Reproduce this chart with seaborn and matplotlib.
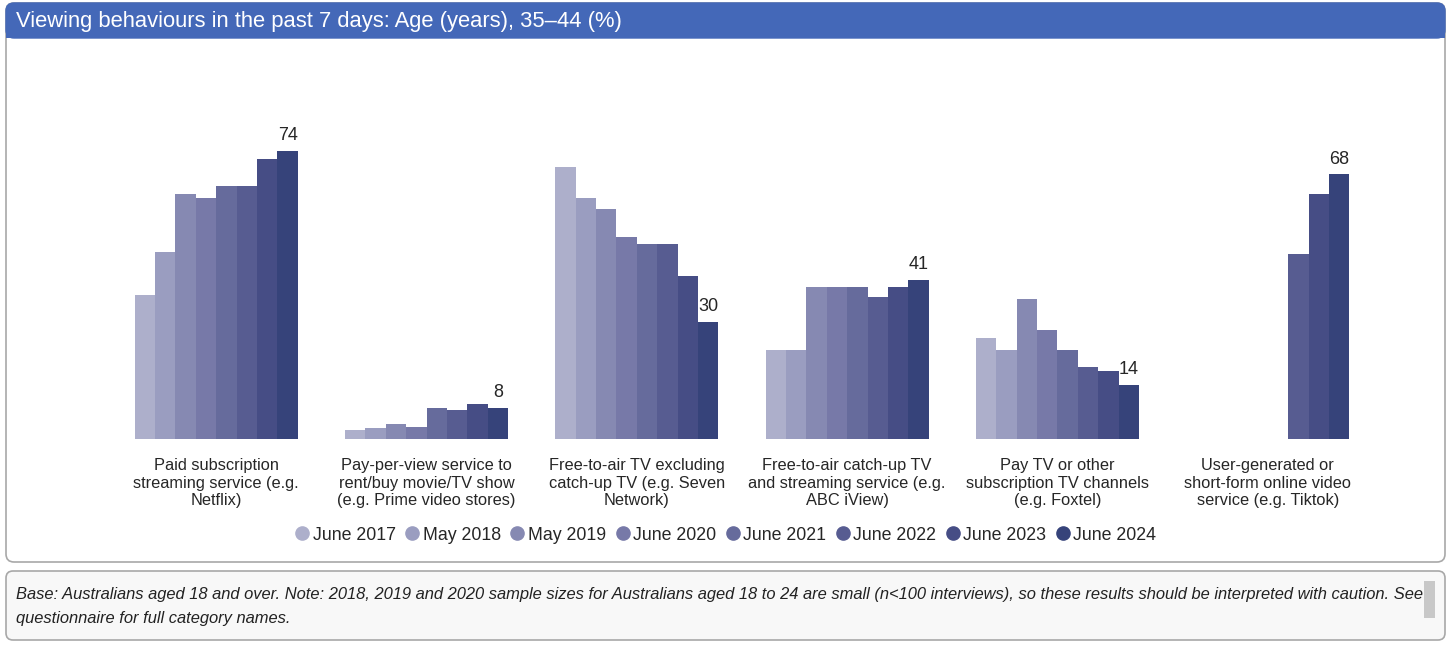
import numpy as np
import pandas as pd
import matplotlib
matplotlib.use("Agg")
import matplotlib.pyplot as plt
import seaborn as sns
from matplotlib.patches import FancyBboxPatch, Rectangle
from matplotlib.lines import Line2D

# ── Data ──
categories = [
    "Paid subscription\nstreaming service (e.g.\nNetflix)",
    "Pay-per-view service to\nrent/buy movie/TV show\n(e.g. Prime video stores)",
    "Free-to-air TV excluding\ncatch-up TV (e.g. Seven\nNetwork)",
    "Free-to-air catch-up TV\nand streaming service (e.g.\nABC iView)",
    "Pay TV or other\nsubscription TV channels\n(e.g. Foxtel)",
    "User-generated or\nshort-form online video\nservice (e.g. Tiktok)",
]
periods = ["June 2017", "May 2018", "May 2019", "June 2020",
           "June 2021", "June 2022", "June 2023", "June 2024"]

june_2017 = [37, 2.3, 70, 23, 26, np.nan]
may_2018 = [48, 2.8, 62, 23, 23, np.nan]
may_2019 = [63, 3.9, 59, 39, 36, np.nan]
june_2020 = [62, 3.0, 52, 39, 28, np.nan]
june_2021 = [65, 8.0, 50, 39, 23, np.nan]
june_2022 = [65, 7.5, 50, 36.5, 18.5, 47.5]
june_2023 = [72, 9.0, 42, 39, 17.5, 63]
june_2024 = [74, 8, 30, 41, 14, 68]

colors = ["#adafcb", "#9a9dc0", "#8689b2", "#7779a8",
          "#666b9c", "#575c91", "#464d85", "#36437a"]

series = [june_2017, may_2018, may_2019, june_2020,
          june_2021, june_2022, june_2023, june_2024]
rows = []
for period, vals in zip(periods, series):
    for cat, v in zip(categories, vals):
        if not np.isnan(v):
            rows.append({"category": cat, "period": period, "value": v})
df = pd.DataFrame(rows)

sns.set_theme(style="white")
plt.rcParams["font.family"] = ["Liberation Sans", "DejaVu Sans"]

W, H = 1456, 645
fig = plt.figure(figsize=(W / 100, H / 100), dpi=100)

# ── Panel frames ──
bg = fig.add_axes([0, 0, 1, 1])
bg.set_xlim(0, W)
bg.set_ylim(H, 0)
bg.axis("off")
bg.add_patch(FancyBboxPatch((6, 3), 1439, 559, boxstyle="round,pad=0,rounding_size=8",
                            facecolor="white", edgecolor="#a8a8a8", lw=1.2))
bg.add_patch(FancyBboxPatch((6, 3), 1439, 35, boxstyle="round,pad=0,rounding_size=8",
                            facecolor="#4468b8", edgecolor="#4468b8", lw=1))
bg.add_patch(Rectangle((6, 25), 1439, 13, facecolor="#4468b8", edgecolor="none"))
bg.text(16, 21, "Viewing behaviours in the past 7 days: Age (years), 35\u201344 (%)",
        color="white", fontsize=15.8, va="center", ha="left")

bg.add_patch(FancyBboxPatch((6, 571), 1439, 69, boxstyle="round,pad=0,rounding_size=7",
                            facecolor="#f8f8f8", edgecolor="#a8a8a8", lw=1.2))
bg.add_patch(Rectangle((1424, 581), 11, 37, facecolor="#c8c8c8", edgecolor="none"))
bg.text(16, 594, "Base: Australians aged 18 and over. Note: 2018, 2019 and 2020 sample sizes "
        "for Australians aged 18 to 24 are small (n<100 interviews), so these results "
        "should be interpreted with caution. See", fontsize=11.85, style="italic",
        va="center", ha="left", color="#222222")
bg.text(16, 619, "questionnaire for full category names.", fontsize=11.85, style="italic",
        va="center", ha="left", color="#222222")

# ── Bars ──
ax = fig.add_axes([111 / W, 1 - 439 / H, (1373 - 111) / W, (439 - 120) / H])
sns.barplot(data=df, x="category", y="value", hue="period", order=categories,
            hue_order=periods, palette=colors, width=0.776, linewidth=0,
            saturation=1, ax=ax, legend=False)
ax.set_ylim(0, 82)
ax.set_xlim(-0.5, len(categories) - 0.5)
ax.set_xlabel("")
ax.set_ylabel("")
ax.set_yticks([])
ax.tick_params(axis="x", length=0, pad=14, labelsize=11.8)
for lbl in ax.get_xticklabels():
    lbl.set_linespacing(1.2)
    lbl.set_verticalalignment("top")
sns.despine(ax=ax, left=True, bottom=True)

# label the latest value of each group
last = ax.containers[-1]
ax.bar_label(last, labels=[f"{v:g}" for v in june_2024], padding=5, fontsize=13)

# ── Legend ──
handles = [Line2D([0], [0], marker="o", linestyle="", markersize=9.5,
                  markerfacecolor=c, markeredgecolor=c) for c in colors]
fig.legend(handles, periods, loc="center", bbox_to_anchor=(724 / W, 1 - 535 / H),
           ncol=len(periods), frameon=False, fontsize=12.8, handletextpad=0.0,
           columnspacing=0.32, handlelength=1.2)

fig.savefig("out.png", dpi=100)
